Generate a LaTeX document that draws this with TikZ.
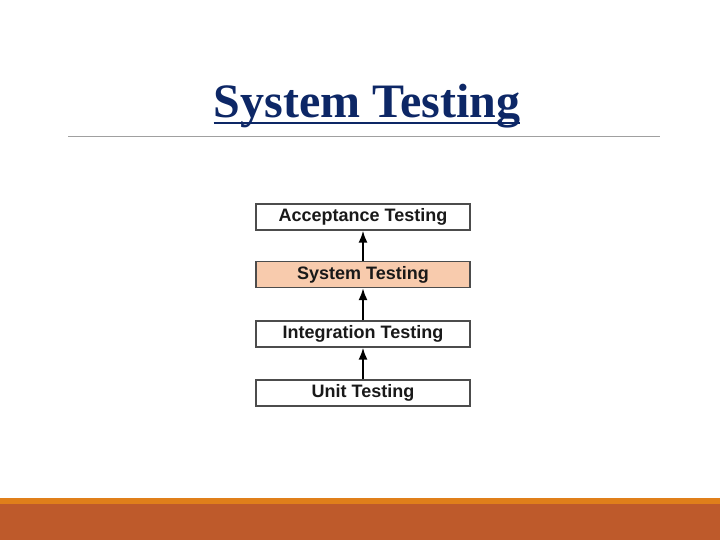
\documentclass[tikz,border=0pt]{standalone}
\usepackage{fontspec}
\setmainfont{Liberation Serif}
\newfontfamily\arialfont{Liberation Sans}
\usetikzlibrary{arrows.meta}
\definecolor{navy}{HTML}{0D2766}
\definecolor{peach}{HTML}{F8CBAD}
\definecolor{bandA}{HTML}{E07F1A}
\definecolor{bandB}{HTML}{BE5A2B}
\definecolor{rulegray}{HTML}{A0A0A0}
\tikzset{
  stage/.style={draw=black!70, line width=1.2pt, minimum width=214pt, minimum height=26pt,
    inner sep=0pt, font=\arialfont\bfseries\fontsize{18}{20}\selectfont, text=black!90},
  flow/.style={-{Latex[length=12pt,width=9pt]}, line width=2pt, black}
}
\begin{document}
\begin{tikzpicture}[x=1pt,y=-1pt]
\useasboundingbox (0,0) rectangle (720,540);
\fill[white] (0,0) rectangle (720,540);
% bottom bands
\fill[bandA] (0,498) rectangle (720,504);
\fill[bandB] (0,504) rectangle (720,540);
% title
\node[anchor=base, text=navy, font=\bfseries\fontsize{48}{54}\selectfont, inner sep=0pt] (title) at (367,118) {System Testing};
\draw[navy, line width=1.6pt] (title.south west |- 0,123) -- (title.south east |- 0,123);
\draw[rulegray, line width=0.8pt] (68,136) -- (660,136);
% stages
\node[stage] (acc) at (363,217) {Acceptance Testing};
\node[stage, fill=peach] (sys) at (363,274.5) {System Testing};
\node[stage] (int) at (363,334) {Integration Testing};
\node[stage] (unit) at (363,393) {Unit Testing};
\draw[flow] (sys) -- (acc);
\draw[flow] (int) -- (sys);
\draw[flow] (unit) -- (int);
\end{tikzpicture}
\end{document}
